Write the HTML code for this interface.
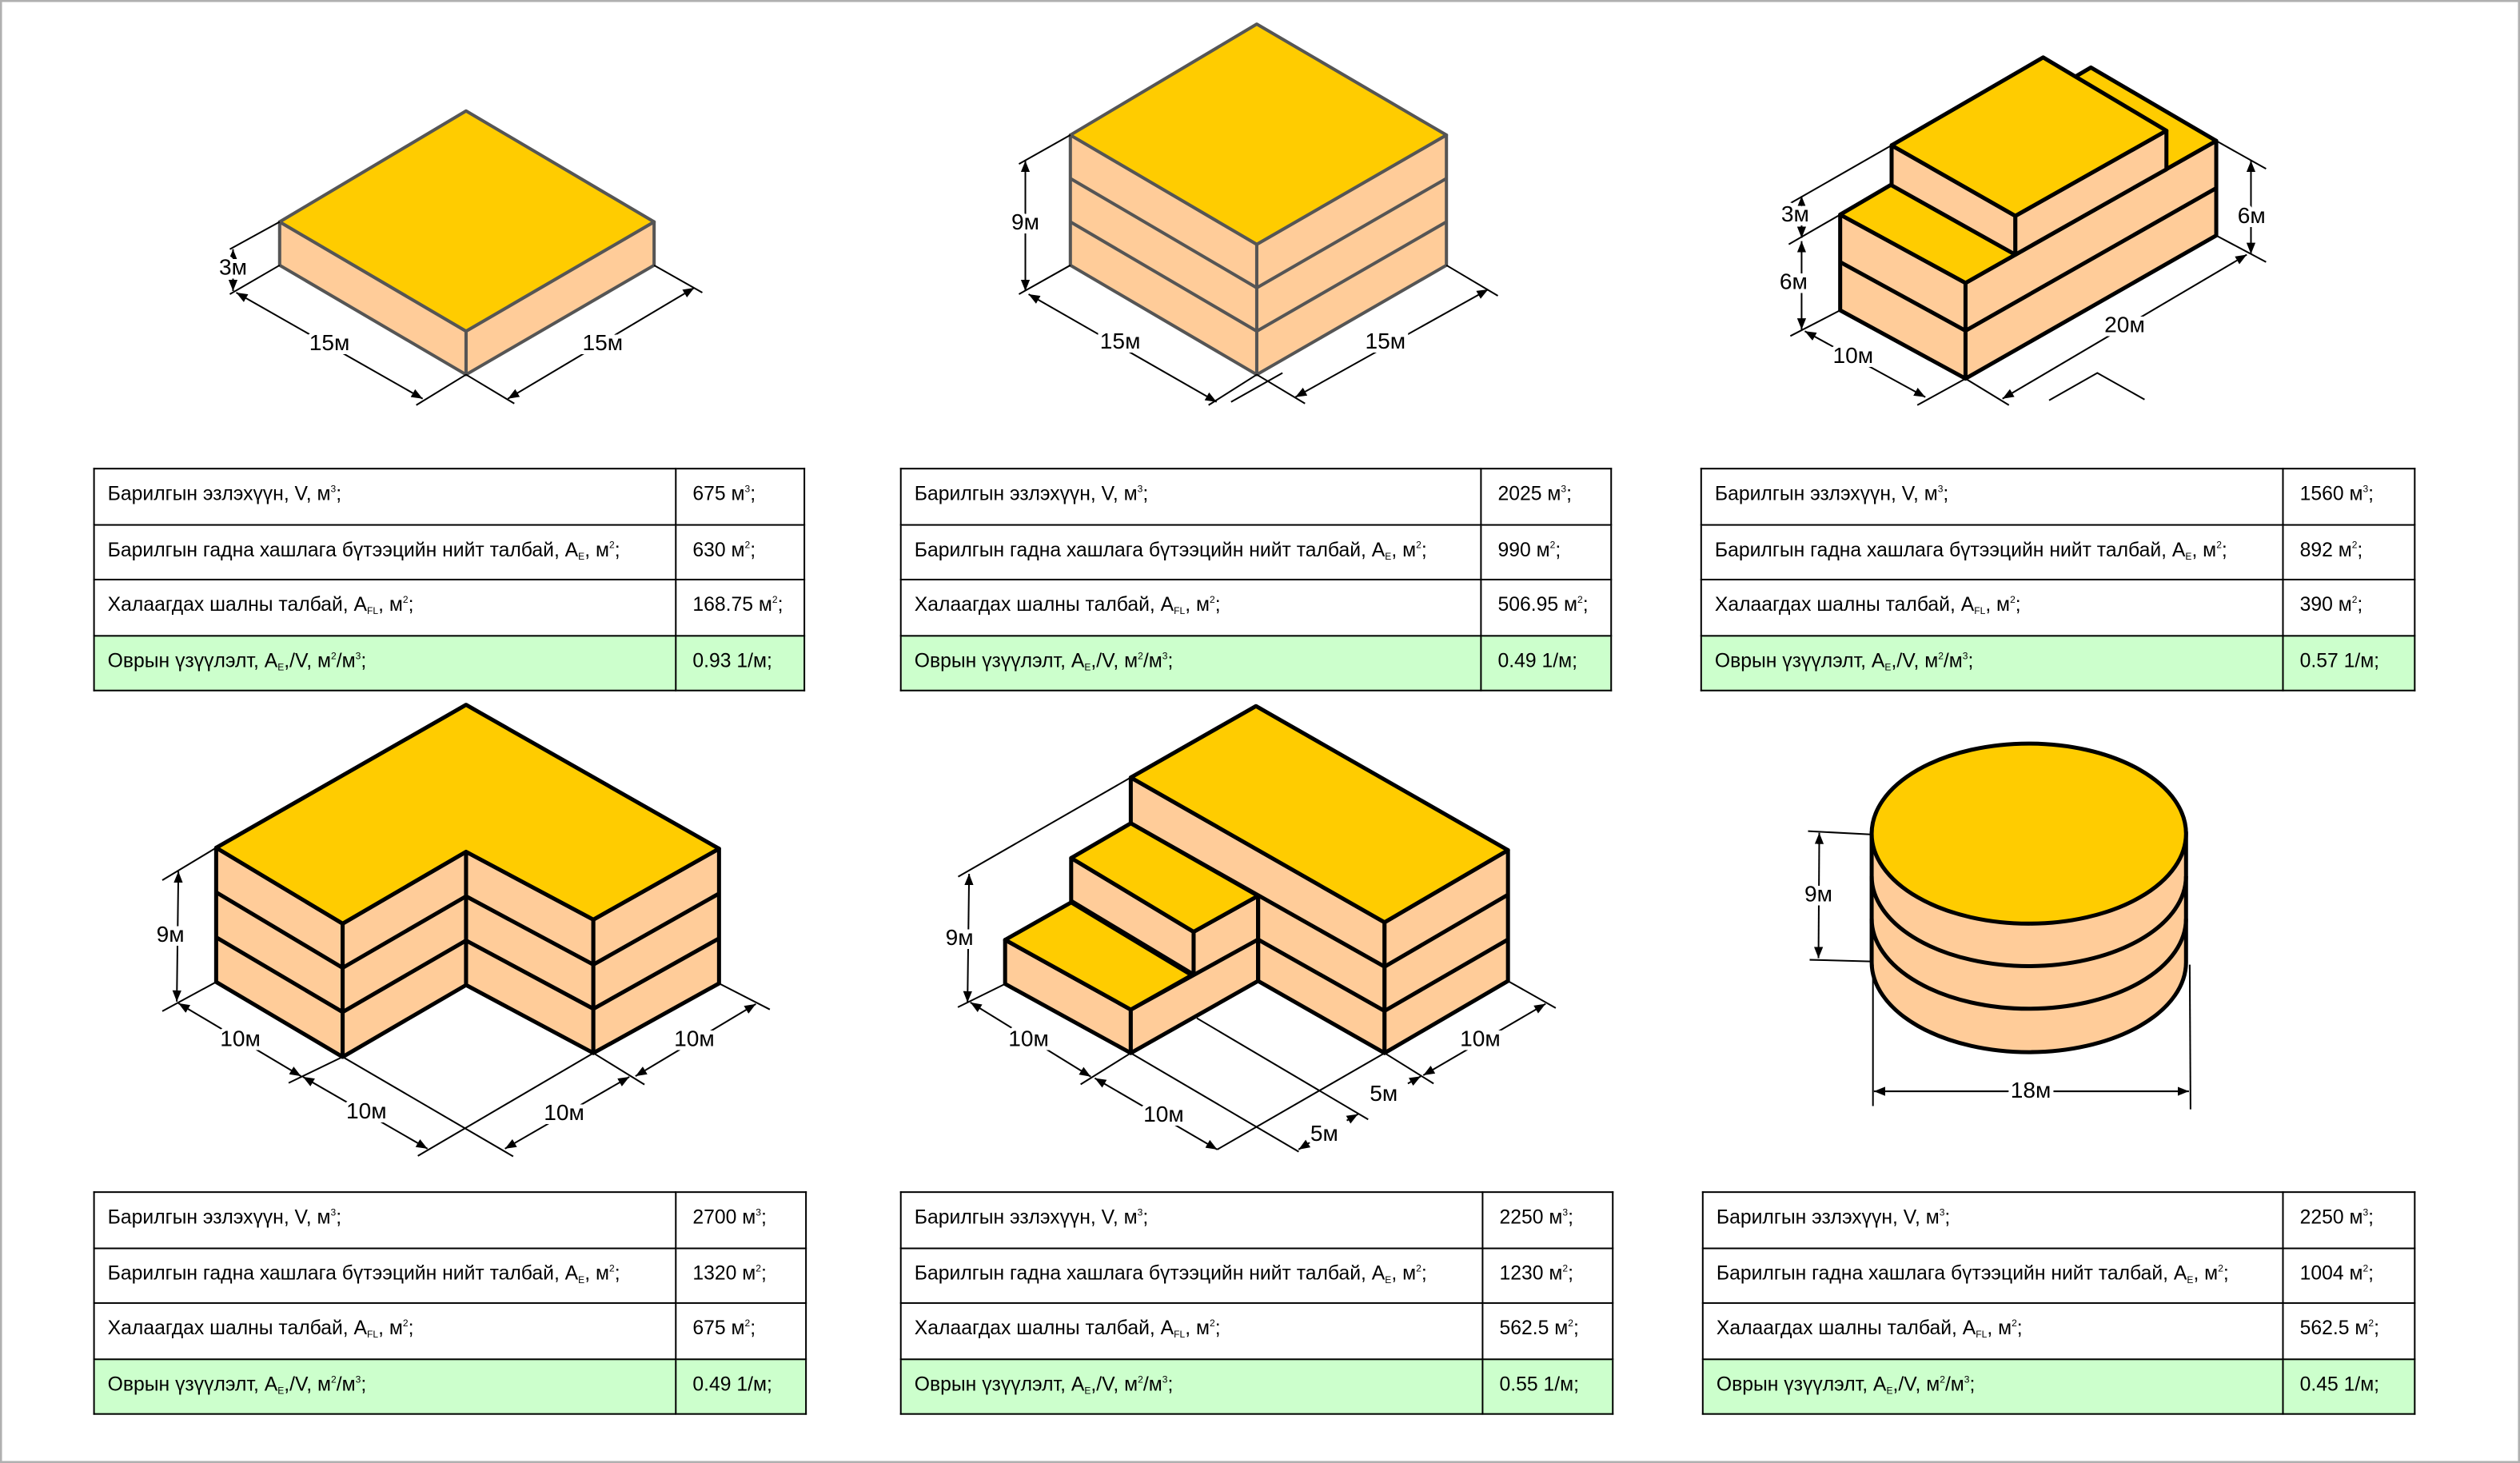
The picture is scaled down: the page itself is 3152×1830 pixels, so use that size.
<!DOCTYPE html>
<html><head><meta charset="utf-8">
<style>
html,body{margin:0;padding:0;background:#fff;overflow:hidden;}
#wrap{position:absolute;left:0;top:0;width:1568px;height:910px;transform-origin:0 0;transform:scale(2.01020,2.01099);}
svg{position:absolute;left:0;top:0;}
table{position:absolute;border-collapse:collapse;font-family:"Liberation Sans",sans-serif;font-size:12.3px;color:#000;}
td{border:1.5px solid #000;height:30.5px;padding:0 0 3px 8px;vertical-align:middle;white-space:nowrap;line-height:14px;}
td.v{padding-left:10px;}
tr.g td{background:#ccffcc;}
sup,sub{font-size:6px;line-height:0;}
sup{vertical-align:5px;} sub{vertical-align:-2px;}
.t{font-family:"Liberation Sans",sans-serif;font-size:14px;fill:#000;paint-order:stroke;stroke:#fff;stroke-width:5px;text-anchor:middle;dominant-baseline:middle;}
</style></head><body>
<div id="wrap">
<svg width="1568" height="910" viewBox="0 0 1568 910">
<defs>
<marker id="a" viewBox="0 0 10 10" refX="10" refY="5" markerWidth="7" markerHeight="7" orient="auto-start-reverse" markerUnits="userSpaceOnUse"><path d="M0,1 L10,5 L0,9 z" fill="#000"/></marker>
</defs>
<rect x="0.5" y="0.5" width="1567" height="909" fill="none" stroke="#b0b0b0" stroke-width="1.5"/>

<!-- FIG 1 -->
<g stroke="#555" stroke-width="2" stroke-linejoin="round">
<polygon points="174,138 290,206 290,233 174,165" fill="#ffcc99"/>
<polygon points="290,206 407,138 407,165 290,233" fill="#ffcc99"/>
<polygon points="290,69 407,138 290,206 174,138" fill="#ffcc00"/>
</g>
<g stroke="#000" stroke-width="1" fill="none">
<line x1="174" y1="138" x2="143" y2="155"/>
<line x1="174" y1="165" x2="143" y2="183"/>
<line x1="145" y1="155" x2="145" y2="181" marker-start="url(#a)" marker-end="url(#a)"/>
<line x1="147" y1="182" x2="263" y2="248" marker-start="url(#a)" marker-end="url(#a)"/>
<line x1="290" y1="233" x2="259" y2="252"/>
<line x1="407" y1="165" x2="437" y2="182"/>
<line x1="290" y1="233" x2="320" y2="251"/>
<line x1="432" y1="179" x2="316" y2="248" marker-start="url(#a)" marker-end="url(#a)"/>
</g>
<text class="t" x="145" y="167">3м</text>
<text class="t" x="205" y="214">15м</text>
<text class="t" x="375" y="214">15м</text>

<!-- FIG 2 -->
<g stroke="#555" stroke-width="2" stroke-linejoin="round">
<polygon points="666,84 782,152 782,233 666,165" fill="#ffcc99"/>
<polygon points="782,152 900,84 900,165 782,233" fill="#ffcc99"/>
<polygon points="782,15 900,84 782,152 666,84" fill="#ffcc00"/>
<line x1="666" y1="111" x2="782" y2="179"/><line x1="666" y1="138" x2="782" y2="206"/>
<line x1="782" y1="179" x2="900" y2="111"/><line x1="782" y1="206" x2="900" y2="138"/>
</g>
<g stroke="#000" stroke-width="1" fill="none">
<line x1="666" y1="84" x2="634" y2="102"/>
<line x1="666" y1="165" x2="634" y2="183"/>
<line x1="638" y1="100" x2="638" y2="181" marker-start="url(#a)" marker-end="url(#a)"/>
<line x1="640" y1="183" x2="757" y2="250" marker-start="url(#a)" marker-end="url(#a)"/>
<line x1="782" y1="233" x2="752" y2="252"/>
<line x1="900" y1="165" x2="932" y2="184"/>
<line x1="782" y1="233" x2="812" y2="251"/>
<line x1="926" y1="180" x2="806" y2="247" marker-start="url(#a)" marker-end="url(#a)"/>
<line x1="766" y1="250" x2="798" y2="232"/>
</g>
<text class="t" x="638" y="139">9м</text>
<text class="t" x="697" y="213">15м</text>
<text class="t" x="862" y="213">15м</text>

<!-- FIG 3 -->
<g stroke="#000" stroke-width="2.5" stroke-linejoin="round">
<polygon points="1145,133.5 1223,176 1223,235.5 1145,193" fill="#ffcc99"/>
<polygon points="1223,176 1379,87.6 1379,146.5 1223,235.5" fill="#ffcc99"/>
<polygon points="1145,133.5 1301,42 1379,87.6 1223,176" fill="#ffcc00"/>
<line x1="1145" y1="163" x2="1223" y2="205.7"/><line x1="1223" y1="205.7" x2="1379" y2="117"/>
<polygon points="1177,90.4 1254,134.3 1254,158.4 1177,115.3" fill="#ffcc99"/>
<polygon points="1254,134.3 1348,81.3 1348,105.3 1254,158.4" fill="#ffcc99"/>
<polygon points="1177,90.4 1271.3,35.7 1348,81.3 1254,134.3" fill="#ffcc00"/>
</g>
<g stroke="#000" stroke-width="1" fill="none">
<line x1="1177" y1="90.4" x2="1113" y2="127"/>
<line x1="1145" y1="133.5" x2="1113" y2="152"/>
<line x1="1145" y1="193" x2="1114" y2="209"/>
<line x1="1121" y1="122" x2="1121" y2="148" marker-start="url(#a)" marker-end="url(#a)"/>
<line x1="1121" y1="150" x2="1121" y2="205" marker-start="url(#a)" marker-end="url(#a)"/>
<line x1="1123" y1="206" x2="1198" y2="247" marker-start="url(#a)" marker-end="url(#a)"/>
<line x1="1223" y1="235.5" x2="1193" y2="252"/>
<line x1="1379" y1="146.5" x2="1410" y2="163"/>
<line x1="1223" y1="235.5" x2="1250" y2="252"/>
<line x1="1398" y1="158.4" x2="1246" y2="248" marker-start="url(#a)" marker-end="url(#a)"/>
<line x1="1379" y1="87.6" x2="1410" y2="105"/>
<line x1="1400.6" y1="100" x2="1400.6" y2="158" marker-start="url(#a)" marker-end="url(#a)"/>
<polyline points="1275,249 1305,232 1334.4,248.5"/>
</g>
<text class="t" x="1117" y="134">3м</text>
<text class="t" x="1116" y="176">6м</text>
<text class="t" x="1153" y="222">10м</text>
<text class="t" x="1322" y="203">20м</text>
<text class="t" x="1401" y="135">6м</text>

<!-- FIG 4 -->
<g stroke="#000" stroke-width="2.5" stroke-linejoin="round">
<polygon points="134.5,527.3 213.2,574.5 213.2,657.4 134.5,610.8" fill="#ffcc99"/>
<polygon points="213.2,574.5 290,529.8 290,612.7 213.2,657.4" fill="#ffcc99"/>
<polygon points="290,529.8 369.2,572 369.2,655 290,612.7" fill="#ffcc99"/>
<polygon points="369.2,572 447.4,527.9 447.4,611.7 369.2,655" fill="#ffcc99"/>
<polygon points="290,438.4 447.4,527.9 369.2,572 290,529.8 213.2,574.5 134.5,527.3" fill="#ffcc00"/>
<polyline fill="none" points="134.5,555 213.2,602 290,557.5 369.2,600 447.4,555.8"/>
<polyline fill="none" points="134.5,583 213.2,629.5 290,585 369.2,627.5 447.4,583.7"/>
</g>
<g stroke="#000" stroke-width="1" fill="none">
<line x1="134.5" y1="527.3" x2="101" y2="547.5"/>
<line x1="134.5" y1="610.8" x2="101" y2="629"/>
<line x1="111" y1="542" x2="110" y2="623" marker-start="url(#a)" marker-end="url(#a)"/>
<line x1="111" y1="624" x2="187.3" y2="669.4" marker-start="url(#a)" marker-end="url(#a)"/>
<line x1="213.2" y1="657.4" x2="179.6" y2="673.6"/>
<line x1="188.5" y1="669.8" x2="266" y2="714.5" marker-start="url(#a)" marker-end="url(#a)"/>
<line x1="213.2" y1="657.4" x2="319.3" y2="719.3"/>
<line x1="369.2" y1="655" x2="260" y2="719"/>
<line x1="369.2" y1="655" x2="401" y2="674.6"/>
<line x1="391.6" y1="669.8" x2="314.2" y2="714.5" marker-start="url(#a)" marker-end="url(#a)"/>
<line x1="447.4" y1="611.7" x2="479" y2="627.9"/>
<line x1="470.3" y1="624.5" x2="395.4" y2="669.4" marker-start="url(#a)" marker-end="url(#a)"/>
</g>
<text class="t" x="106" y="582">9м</text>
<text class="t" x="149.5" y="647">10м</text>
<text class="t" x="228" y="692">10м</text>
<text class="t" x="351" y="693">10м</text>
<text class="t" x="432" y="647">10м</text>

<!-- FIG 5 -->
<g stroke="#000" stroke-width="2.5" stroke-linejoin="round">
<polygon points="703.6,483.6 861.5,573.7 861.5,655 782.8,610.2 782.8,557.2 703.6,512.1" fill="#ffcc99"/>
<polygon points="861.5,573.7 938.3,528.8 938.3,610.2 861.5,655" fill="#ffcc99"/>
<polygon points="781.5,439.2 938.3,528.8 861.5,573.7 703.6,483.6" fill="#ffcc00"/>
<line x1="703.6" y1="512.1" x2="861.5" y2="601.3"/>
<line x1="782.8" y1="584.4" x2="861.5" y2="628.8"/>
<line x1="861.5" y1="601.3" x2="938.3" y2="556.5"/>
<line x1="861.5" y1="628.8" x2="938.3" y2="584.4"/>
<polygon points="666.5,533.7 742.7,579.6 742.7,606.2 666.5,560.4" fill="#ffcc99"/>
<polygon points="742.7,579.6 782.8,557.2 782.8,610.2 742.7,606.2" fill="#ffcc99"/>
<polygon points="666.5,533.7 703.6,512.1 782.8,557.2 742.7,579.6" fill="#ffcc00"/>
<polygon points="625.4,584.6 703.6,628 703.6,655 625.4,612" fill="#ffcc99"/>
<polygon points="703.6,628 782.8,584.4 782.8,610.2 703.6,655" fill="#ffcc99"/>
<polygon points="625.4,584.6 666.5,561.3 741.6,606.6 703.6,628" fill="#ffcc00"/>
<line x1="782.8" y1="557.2" x2="782.8" y2="610.2"/>
</g>
<g stroke="#000" stroke-width="1" fill="none">
<line x1="703.6" y1="483.6" x2="596.2" y2="545.3"/>
<line x1="625.4" y1="612" x2="596" y2="626.5"/>
<line x1="603" y1="543.5" x2="602" y2="623.5" marker-start="url(#a)" marker-end="url(#a)"/>
<line x1="603.8" y1="623.5" x2="678.7" y2="669.7" marker-start="url(#a)" marker-end="url(#a)"/>
<line x1="703.6" y1="655" x2="672.4" y2="674.5"/>
<line x1="681.2" y1="670.6" x2="757.4" y2="715" marker-start="url(#a)" marker-end="url(#a)"/>
<line x1="703.6" y1="655" x2="808.1" y2="716.4"/>
<line x1="861.5" y1="655" x2="757.4" y2="715"/>
<line x1="744.7" y1="633.3" x2="851.3" y2="696.3"/>
<line x1="838" y1="697" x2="845" y2="693" marker-end="url(#a)"/>
<line x1="816" y1="710" x2="808" y2="715" marker-end="url(#a)"/>
<line x1="938.3" y1="610.2" x2="968" y2="627"/>
<line x1="861.5" y1="655" x2="892" y2="674"/>
<line x1="961.7" y1="624.4" x2="885.6" y2="668.8" marker-start="url(#a)" marker-end="url(#a)"/>
<line x1="876" y1="674" x2="884" y2="669.5" marker-end="url(#a)"/>
</g>
<text class="t" x="597" y="584">9м</text>
<text class="t" x="640" y="647">10м</text>
<text class="t" x="724" y="694">10м</text>
<text class="t" x="861" y="681">5м</text>
<text class="t" x="824" y="706">5м</text>
<text class="t" x="921" y="647">10м</text>

<!-- FIG 6 -->
<g stroke="#000" stroke-width="2.5">
<path d="M1164.6,518.5 L1164.6,598.5 A97.8,56 0 0 0 1360.2,598.5 L1360.2,518.5 Z" fill="#ffcc99"/>
<path d="M1164.6,545 A97.8,56 0 0 0 1360.2,545" fill="none"/>
<path d="M1164.6,571.5 A97.8,56 0 0 0 1360.2,571.5" fill="none"/>
<ellipse cx="1262.4" cy="518.5" rx="97.8" ry="56" fill="#ffcc00"/>
</g>
<g stroke="#000" stroke-width="1" fill="none">
<line x1="1125" y1="517" x2="1164" y2="519"/>
<line x1="1126" y1="597" x2="1164" y2="598"/>
<line x1="1132" y1="518" x2="1131.5" y2="596" marker-start="url(#a)" marker-end="url(#a)"/>
<line x1="1165.4" y1="600" x2="1165.4" y2="688"/>
<line x1="1362.5" y1="600" x2="1363" y2="690"/>
<line x1="1166" y1="678.8" x2="1362" y2="678.8" marker-start="url(#a)" marker-end="url(#a)"/>
</g>
<text class="t" x="1131.5" y="557">9м</text>
<text class="t" x="1263.6" y="679">18м</text>
</svg>

<table style="left:58px;top:291px;width:443px;">
<tr><td style="width:353px">Барилгын эзлэхүүн, V, м<sup>3</sup>;</td><td class="v">675 м<sup>3</sup>;</td></tr>
<tr><td>Барилгын гадна хашлага бүтээцийн нийт талбай, A<sub>E</sub>, м<sup>2</sup>;</td><td class="v">630 м<sup>2</sup>;</td></tr>
<tr><td>Халаагдах шалны талбай, A<sub>FL</sub>, м<sup>2</sup>;</td><td class="v">168.75 м<sup>2</sup>;</td></tr>
<tr class="g"><td>Оврын үзүүлэлт, A<sub>E</sub>,/V, м<sup>2</sup>/м<sup>3</sup>;</td><td class="v">0.93 1/м;</td></tr>
</table>
<table style="left:560px;top:291px;width:443px;">
<tr><td style="width:352px">Барилгын эзлэхүүн, V, м<sup>3</sup>;</td><td class="v">2025 м<sup>3</sup>;</td></tr>
<tr><td>Барилгын гадна хашлага бүтээцийн нийт талбай, A<sub>E</sub>, м<sup>2</sup>;</td><td class="v">990 м<sup>2</sup>;</td></tr>
<tr><td>Халаагдах шалны талбай, A<sub>FL</sub>, м<sup>2</sup>;</td><td class="v">506.95 м<sup>2</sup>;</td></tr>
<tr class="g"><td>Оврын үзүүлэлт, A<sub>E</sub>,/V, м<sup>2</sup>/м<sup>3</sup>;</td><td class="v">0.49 1/м;</td></tr>
</table>
<table style="left:1058px;top:291px;width:445px;">
<tr><td style="width:353px">Барилгын эзлэхүүн, V, м<sup>3</sup>;</td><td class="v">1560 м<sup>3</sup>;</td></tr>
<tr><td>Барилгын гадна хашлага бүтээцийн нийт талбай, A<sub>E</sub>, м<sup>2</sup>;</td><td class="v">892 м<sup>2</sup>;</td></tr>
<tr><td>Халаагдах шалны талбай, A<sub>FL</sub>, м<sup>2</sup>;</td><td class="v">390 м<sup>2</sup>;</td></tr>
<tr class="g"><td>Оврын үзүүлэлт, A<sub>E</sub>,/V, м<sup>2</sup>/м<sup>3</sup>;</td><td class="v">0.57 1/м;</td></tr>
</table>
<table style="left:58px;top:741px;width:444px;">
<tr><td style="width:353px">Барилгын эзлэхүүн, V, м<sup>3</sup>;</td><td class="v">2700 м<sup>3</sup>;</td></tr>
<tr><td>Барилгын гадна хашлага бүтээцийн нийт талбай, A<sub>E</sub>, м<sup>2</sup>;</td><td class="v">1320 м<sup>2</sup>;</td></tr>
<tr><td>Халаагдах шалны талбай, A<sub>FL</sub>, м<sup>2</sup>;</td><td class="v">675 м<sup>2</sup>;</td></tr>
<tr class="g"><td>Оврын үзүүлэлт, A<sub>E</sub>,/V, м<sup>2</sup>/м<sup>3</sup>;</td><td class="v">0.49 1/м;</td></tr>
</table>
<table style="left:560px;top:741px;width:444px;">
<tr><td style="width:353px">Барилгын эзлэхүүн, V, м<sup>3</sup>;</td><td class="v">2250 м<sup>3</sup>;</td></tr>
<tr><td>Барилгын гадна хашлага бүтээцийн нийт талбай, A<sub>E</sub>, м<sup>2</sup>;</td><td class="v">1230 м<sup>2</sup>;</td></tr>
<tr><td>Халаагдах шалны талбай, A<sub>FL</sub>, м<sup>2</sup>;</td><td class="v">562.5 м<sup>2</sup>;</td></tr>
<tr class="g"><td>Оврын үзүүлэлт, A<sub>E</sub>,/V, м<sup>2</sup>/м<sup>3</sup>;</td><td class="v">0.55 1/м;</td></tr>
</table>
<table style="left:1059px;top:741px;width:444px;">
<tr><td style="width:352px">Барилгын эзлэхүүн, V, м<sup>3</sup>;</td><td class="v">2250 м<sup>3</sup>;</td></tr>
<tr><td>Барилгын гадна хашлага бүтээцийн нийт талбай, A<sub>E</sub>, м<sup>2</sup>;</td><td class="v">1004 м<sup>2</sup>;</td></tr>
<tr><td>Халаагдах шалны талбай, A<sub>FL</sub>, м<sup>2</sup>;</td><td class="v">562.5 м<sup>2</sup>;</td></tr>
<tr class="g"><td>Оврын үзүүлэлт, A<sub>E</sub>,/V, м<sup>2</sup>/м<sup>3</sup>;</td><td class="v">0.45 1/м;</td></tr>
</table>
</div>
</body></html>
